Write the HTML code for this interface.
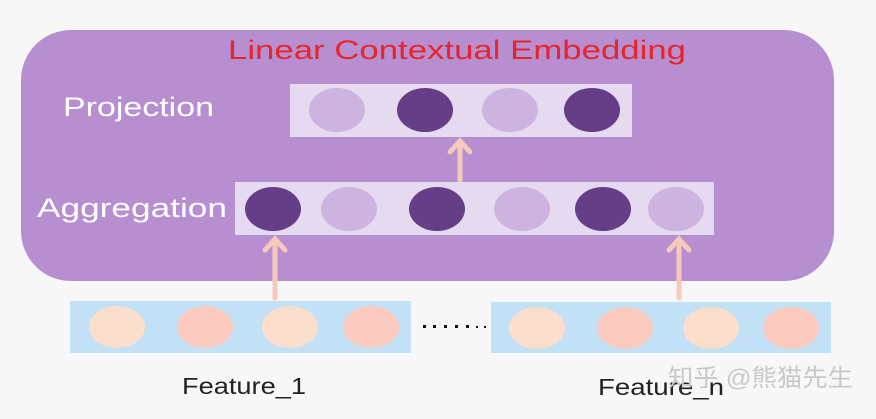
<!DOCTYPE html>
<html><head><style>body{margin:0;background:#f7f7f7}</style></head><body>
<svg width="876" height="414" xmlns="http://www.w3.org/2000/svg" font-family="Liberation Sans, sans-serif">
<rect width="876" height="414" fill="#f7f7f7"/>
<rect x="21" y="30" width="813" height="251" rx="50" fill="#b78fd1"/>
<text x="228" y="59" font-size="27" fill="#e8242a" textLength="458" lengthAdjust="spacingAndGlyphs">Linear Contextual Embedding</text>
<text x="63" y="116" font-size="27" fill="#fff" textLength="151" lengthAdjust="spacingAndGlyphs">Projection</text>
<text x="37" y="217" font-size="27" fill="#fff" textLength="190" lengthAdjust="spacingAndGlyphs">Aggregation</text>
<rect x="290" y="84" width="342" height="53" fill="#e6daf0"/>
<g><ellipse cx="337" cy="110" rx="28" ry="22" fill="#cdb3e0"/><ellipse cx="425" cy="110" rx="28" ry="22" fill="#653e87"/><ellipse cx="510" cy="110" rx="28" ry="22" fill="#cdb3e0"/><ellipse cx="592" cy="110" rx="28" ry="22" fill="#653e87"/></g>
<rect x="235" y="182" width="479" height="53" fill="#e6daf0"/>
<g><ellipse cx="273" cy="209" rx="28" ry="22" fill="#653e87"/><ellipse cx="349" cy="209" rx="28" ry="22" fill="#cdb3e0"/><ellipse cx="437" cy="209" rx="28" ry="22" fill="#653e87"/><ellipse cx="522" cy="209" rx="28" ry="22" fill="#cdb3e0"/><ellipse cx="603" cy="209" rx="28" ry="22" fill="#653e87"/><ellipse cx="676" cy="209" rx="28" ry="22" fill="#cdb3e0"/></g>
<g stroke="#f6c9bd" stroke-width="5" fill="none" stroke-linecap="round">
<line x1="275" y1="298" x2="275" y2="240"/><polyline points="265,250 275,239 285,250"/>
<line x1="679" y1="298" x2="679" y2="240"/><polyline points="669,250 679,239 689,250"/>
<line x1="460" y1="180" x2="460" y2="142"/><polyline points="450,152 460,141 470,152"/>
</g>
<rect x="70" y="301" width="341" height="52" fill="#c2e0f6"/>
<g><ellipse cx="117" cy="327" rx="28" ry="21" fill="#fbdfcc"/><ellipse cx="205" cy="327" rx="28" ry="21" fill="#fbcbc0"/><ellipse cx="290" cy="327" rx="28" ry="21" fill="#fbdfcc"/><ellipse cx="371" cy="327" rx="28" ry="21" fill="#fbcbc0"/></g>
<rect x="491" y="302" width="340" height="51" fill="#c2e0f6"/>
<g><ellipse cx="537" cy="328" rx="28" ry="21" fill="#fbdfcc"/><ellipse cx="625" cy="328" rx="28" ry="21" fill="#fbcbc0"/><ellipse cx="711" cy="328" rx="28" ry="21" fill="#fbdfcc"/><ellipse cx="791" cy="328" rx="28" ry="21" fill="#fbcbc0"/></g>
<g fill="#111"><rect x="423" y="325" width="3" height="3"/><rect x="433" y="325" width="3" height="3"/><rect x="444" y="325" width="3" height="3"/><rect x="455" y="325" width="3" height="3"/><rect x="466" y="325" width="3" height="3"/><rect x="476" y="326" width="2" height="2"/><rect x="484" y="326" width="2" height="2"/></g>
<text x="182" y="394" font-size="23" fill="#222" textLength="124" lengthAdjust="spacingAndGlyphs">Feature_1</text>
<text x="598" y="395" font-size="23" fill="#222" textLength="126" lengthAdjust="spacingAndGlyphs">Feature_n</text>
<text x="668" y="386" font-size="24" fill="#c8c8c8" font-family="Liberation Sans, Noto Sans CJK SC, sans-serif" textLength="185" lengthAdjust="spacingAndGlyphs">知乎 @熊猫先生</text>
</svg>
</body></html>
